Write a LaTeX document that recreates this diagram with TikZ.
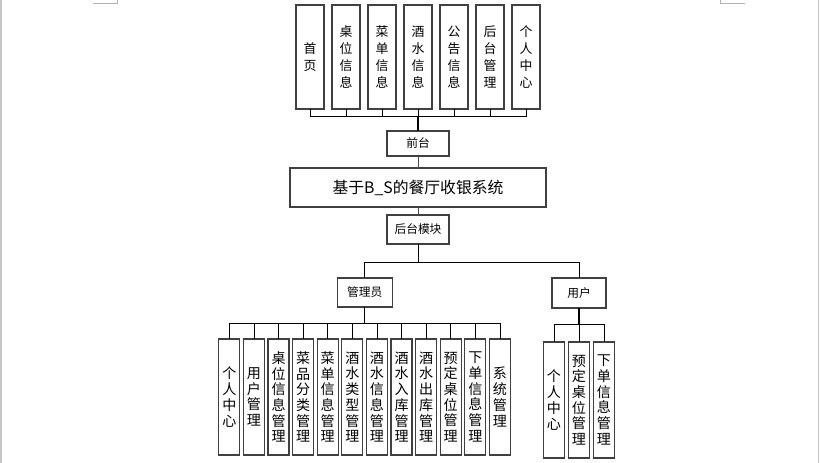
\documentclass[tikz,border=0pt]{standalone}
\usepackage{fontspec}
\newfontfamily\cjk{Noto Sans CJK SC}
\usepackage{tikz}
\usetikzlibrary{positioning}

\begin{document}
\begin{tikzpicture}[-,thick,
	top node/.style={draw=black!75, line width=1pt, outer sep=0pt, minimum width=0.84cm, minimum height=3.12cm, inner sep=0pt, align=center, font=\cjk\fontsize{11}{14.5}\selectfont},
	mid node/.style={draw=black!75, line width=1pt, outer sep=0pt, inner sep=0pt, font=\cjk\fontsize{10}{12}\selectfont},
	leaf node/.style={draw=black!75, line width=1pt, outer sep=0pt, minimum width=0.63cm, minimum height=3.48cm, inner sep=0pt, align=center, font=\cjk\fontsize{12}{13.4}\selectfont},
	link/.style={line width=0.8pt, black}]

	\useasboundingbox (0,0) rectangle (24.6,-13.89);
	% page edges
	\draw[gray!45, line width=1pt](0.03,0)--(0.03,-13.89);
	\draw[gray!45, line width=1pt](24.555,0)--(24.555,-13.89);
	\draw[gray!60, line width=0.6pt](2.79,-0.09)--(3.51,-0.09)--(3.51,0);
	\draw[gray!60, line width=0.6pt](21.6,0)--(21.6,-0.09)--(22.35,-0.09);

	\node[mid node, minimum width=7.68cm, minimum height=1.17cm, font=\cjk\fontsize{13.5}{16}\selectfont](SYS) at (12.54,-5.625){基于B\_S的餐厅收银系统};

	\node[mid node, minimum width=1.86cm, minimum height=0.75cm](QT)[above = 0.36cm of SYS]{前台};
		\node[top node](QT4)[above = 0.66cm of QT]{酒\\水\\信\\息};
		\node[top node](QT3)[left = 0.24cm of QT4]{菜\\单\\信\\息};
		\node[top node](QT2)[left = 0.24cm of QT3]{桌\\位\\信\\息};
		\node[top node](QT1)[left = 0.24cm of QT2]{首\\页};
		\node[top node](QT5)[right = 0.24cm of QT4]{公\\告\\信\\息};
		\node[top node](QT6)[right = 0.24cm of QT5]{后\\台\\管\\理};
		\node[top node](QT7)[right = 0.24cm of QT6]{个\\人\\中\\心};

	\node[mid node, minimum width=1.86cm, minimum height=0.87cm](HT)[below = 0.24cm of SYS]{后台模块};

	\node[mid node, minimum width=1.65cm, minimum height=0.87cm](GL)[below = 1.02cm of HT, xshift=-1.6cm]{管理员};
		\node[leaf node](GL6)[below = 0.96cm of GL, xshift=-0.369cm]{酒\\水\\类\\型\\管\\理};
		\node[leaf node](GL5)[left = 0.108cm of GL6]{菜\\单\\信\\息\\管\\理};
		\node[leaf node](GL4)[left = 0.108cm of GL5]{菜\\品\\分\\类\\管\\理};
		\node[leaf node](GL3)[left = 0.108cm of GL4]{桌\\位\\信\\息\\管\\理};
		\node[leaf node](GL2)[left = 0.108cm of GL3]{用\\户\\管\\理};
		\node[leaf node](GL1)[left = 0.108cm of GL2]{个\\人\\中\\心};
		\node[leaf node](GL7)[below = 0.96cm of GL, xshift=0.369cm]{酒\\水\\信\\息\\管\\理};
		\node[leaf node](GL8)[right = 0.108cm of GL7]{酒\\水\\入\\库\\管\\理};
		\node[leaf node](GL9)[right = 0.108cm of GL8]{酒\\水\\出\\库\\管\\理};
		\node[leaf node](GL10)[right = 0.108cm of GL9]{预\\定\\桌\\位\\管\\理};
		\node[leaf node](GL11)[right = 0.108cm of GL10]{下\\单\\信\\息\\管\\理};
		\node[leaf node](GL12)[right = 0.108cm of GL11]{系\\统\\管\\理};

	\node[mid node, minimum width=1.62cm, minimum height=0.9cm](YH)[below = 1.02cm of HT, xshift=4.83cm]{用户};
		\node[leaf node](YH2)[below = 1.02cm of YH]{预\\定\\桌\\位\\管\\理};
		\node[leaf node](YH1)[left = 0.12cm of YH2]{个\\人\\中\\心};
		\node[leaf node](YH3)[right = 0.12cm of YH2]{下\\单\\信\\息\\管\\理};

	\draw[link](QT1.south)--++(0,-0.21)-|(QT.north);
	\draw[link](QT2.south)--++(0,-0.21)-|(QT.north);
	\draw[link](QT3.south)--++(0,-0.21)-|(QT.north);
	\draw[link](QT5.south)--++(0,-0.21)-|(QT.north);
	\draw[link](QT6.south)--++(0,-0.21)-|(QT.north);
	\draw[link](QT7.south)--++(0,-0.21)-|(QT.north);
	\draw[link](QT4.south)--(QT.north);
	\draw[line width=1.8pt](QT.north)--++(0,0.45);
	\draw[link, black!70](QT)--(SYS);
	\draw[link, black!70](SYS)--(HT);

	\draw[link](HT.south)--++(0,-0.54)-|(GL.north);
	\draw[link](HT.south)--++(0,-0.54)-|(YH.north);

	\draw[link](GL.south)--++(0,-0.48)-|(GL1.north);
	\draw[link](GL.south)--++(0,-0.48)-|(GL2.north);
	\draw[link](GL.south)--++(0,-0.48)-|(GL3.north);
	\draw[link](GL.south)--++(0,-0.48)-|(GL4.north);
	\draw[link](GL.south)--++(0,-0.48)-|(GL5.north);
	\draw[link](GL.south)--++(0,-0.48)-|(GL6.north);
	\draw[link](GL.south)--++(0,-0.48)-|(GL7.north);
	\draw[link](GL.south)--++(0,-0.48)-|(GL8.north);
	\draw[link](GL.south)--++(0,-0.48)-|(GL9.north);
	\draw[link](GL.south)--++(0,-0.48)-|(GL10.north);
	\draw[link](GL.south)--++(0,-0.48)-|(GL11.north);
	\draw[link](GL.south)--++(0,-0.48)-|(GL12.north);
	\draw[line width=1.4pt](GL.south)--++(0,-0.48);

	\draw[link](YH.south)--++(0,-0.5)-|(YH1.north);
	\draw[link](YH.south)--(YH2.north);
	\draw[link](YH.south)--++(0,-0.5)-|(YH3.north);
	\draw[line width=1.4pt](YH.south)--++(0,-0.5);
\end{tikzpicture}
\end{document}
